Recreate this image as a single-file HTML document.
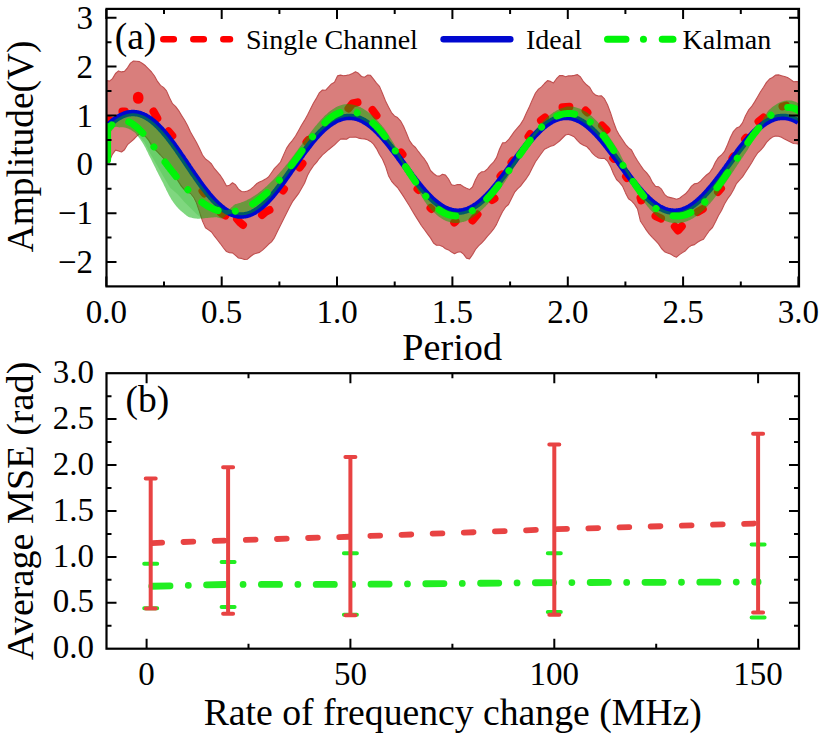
<!DOCTYPE html><html><head><meta charset="utf-8"><style>html,body{margin:0;padding:0;background:#fff;}svg{display:block}text{font-family:"Liberation Serif",serif;fill:#000}</style></head><body>
<svg width="825" height="739" viewBox="0 0 825 739">
<rect width="825" height="739" fill="#fff"/>
<defs><clipPath id="ca"><rect x="106.5" y="8.9" width="692.5" height="277.5"/></clipPath><clipPath id="cb"><rect x="106.5" y="373.2" width="692.5" height="275.5"/></clipPath></defs>
<g clip-path="url(#ca)">
<path d="M106.5,80.5 L109.5,81.1 L112.5,78.6 L115.5,73.5 L118.5,70.9 L121.5,71.9 L124.5,71.4 L127.5,67.8 L130.5,63.1 L133.5,61.0 L136.5,61.2 L139.5,61.6 L142.5,63.5 L145.5,65.8 L148.5,68.9 L151.5,72.0 L154.5,76.0 L157.5,81.4 L160.5,85.4 L163.5,87.4 L166.5,90.9 L169.5,97.8 L172.5,103.7 L175.5,106.3 L178.5,110.3 L181.5,115.4 L184.5,120.0 L187.5,125.6 L190.5,132.0 L193.5,137.2 L196.5,142.5 L199.5,148.5 L202.5,155.0 L205.5,159.0 L208.5,161.1 L211.5,164.0 L214.5,168.7 L217.5,172.2 L220.5,175.7 L223.5,180.4 L226.5,186.0 L229.5,185.2 L232.5,182.8 L235.5,184.7 L238.5,189.1 L241.5,191.5 L244.5,191.8 L247.5,191.0 L250.5,189.4 L253.5,186.9 L256.5,183.8 L259.5,182.1 L262.5,180.8 L265.5,179.1 L268.5,177.0 L271.5,172.8 L274.5,168.4 L277.5,165.3 L280.5,162.0 L283.5,155.1 L286.5,148.4 L289.5,143.9 L292.5,140.3 L295.5,136.0 L298.5,130.7 L301.5,125.3 L304.5,120.4 L307.5,115.0 L310.5,108.9 L313.5,103.0 L316.5,98.1 L319.5,92.6 L322.5,90.0 L325.5,90.3 L328.5,87.1 L331.5,83.9 L334.5,82.3 L337.5,75.9 L340.5,75.1 L343.5,75.7 L346.5,75.4 L349.5,74.8 L352.5,73.4 L355.5,71.8 L358.5,73.3 L361.5,76.5 L364.5,77.2 L367.5,75.1 L370.5,75.3 L373.5,79.2 L376.5,83.2 L379.5,86.4 L382.5,93.5 L385.5,100.9 L388.5,106.9 L391.5,112.6 L394.5,115.9 L397.5,117.6 L400.5,120.8 L403.5,126.2 L406.5,133.2 L409.5,140.6 L412.5,144.9 L415.5,147.5 L418.5,151.7 L421.5,155.7 L424.5,159.2 L427.5,163.9 L430.5,170.5 L433.5,173.5 L436.5,175.7 L439.5,176.1 L442.5,174.3 L445.5,175.1 L448.5,179.0 L451.5,184.7 L454.5,185.5 L457.5,184.5 L460.5,184.6 L463.5,186.8 L466.5,188.3 L469.5,189.6 L472.5,187.0 L475.5,179.7 L478.5,174.2 L481.5,171.9 L484.5,171.5 L487.5,168.8 L490.5,165.2 L493.5,162.2 L496.5,157.6 L499.5,149.2 L502.5,142.9 L505.5,142.6 L508.5,139.7 L511.5,135.6 L514.5,131.3 L517.5,127.9 L520.5,124.4 L523.5,119.5 L526.5,112.8 L529.5,106.5 L532.5,99.4 L535.5,93.0 L538.5,89.1 L541.5,86.9 L544.5,83.5 L547.5,80.6 L550.5,81.4 L553.5,82.9 L556.5,78.7 L559.5,75.6 L562.5,75.5 L565.5,76.7 L568.5,75.9 L571.5,75.9 L574.5,75.4 L577.5,74.6 L580.5,77.0 L583.5,81.7 L586.5,84.8 L589.5,87.1 L592.5,92.3 L595.5,95.1 L598.5,96.0 L601.5,95.8 L604.5,98.9 L607.5,104.7 L610.5,112.7 L613.5,122.0 L616.5,130.0 L619.5,135.4 L622.5,139.7 L625.5,144.4 L628.5,147.6 L631.5,150.0 L634.5,155.8 L637.5,160.8 L640.5,165.3 L643.5,169.6 L646.5,172.6 L649.5,176.6 L652.5,182.4 L655.5,186.4 L658.5,186.7 L661.5,189.2 L664.5,194.3 L667.5,196.9 L670.5,197.6 L673.5,198.3 L676.5,199.3 L679.5,198.2 L682.5,195.9 L685.5,193.8 L688.5,190.4 L691.5,186.1 L694.5,183.8 L697.5,183.4 L700.5,181.1 L703.5,177.9 L706.5,175.0 L709.5,172.7 L712.5,168.4 L715.5,162.0 L718.5,157.4 L721.5,155.0 L724.5,151.4 L727.5,144.8 L730.5,137.2 L733.5,131.3 L736.5,128.1 L739.5,126.8 L742.5,122.9 L745.5,115.7 L748.5,110.2 L751.5,106.7 L754.5,102.1 L757.5,97.0 L760.5,91.7 L763.5,87.3 L766.5,82.4 L769.5,79.1 L772.5,77.5 L775.5,75.1 L778.5,74.9 L781.5,75.7 L784.5,76.5 L787.5,77.5 L790.5,79.4 L793.5,81.7 L796.5,81.5 L799.5,82.0 L799.5,144.4 L796.5,143.7 L793.5,143.5 L790.5,142.0 L787.5,140.4 L784.5,139.1 L781.5,137.2 L778.5,136.2 L775.5,136.0 L772.5,137.1 L769.5,139.3 L766.5,142.4 L763.5,146.9 L760.5,150.3 L757.5,153.2 L754.5,157.8 L751.5,163.0 L748.5,167.6 L745.5,172.2 L742.5,176.9 L739.5,180.1 L736.5,183.6 L733.5,189.7 L730.5,194.9 L727.5,198.9 L724.5,204.1 L721.5,210.5 L718.5,215.5 L715.5,221.8 L712.5,227.5 L709.5,230.5 L706.5,234.7 L703.5,239.3 L700.5,240.5 L697.5,242.3 L694.5,244.6 L691.5,245.4 L688.5,247.4 L685.5,250.7 L682.5,252.6 L679.5,254.6 L676.5,257.2 L673.5,255.9 L670.5,254.0 L667.5,252.9 L664.5,251.7 L661.5,248.5 L658.5,243.9 L655.5,240.7 L652.5,237.6 L649.5,234.3 L646.5,230.4 L643.5,225.7 L640.5,221.3 L637.5,208.9 L634.5,204.1 L631.5,200.9 L628.5,198.7 L625.5,192.9 L622.5,186.1 L619.5,182.4 L616.5,179.5 L613.5,173.7 L610.5,166.4 L607.5,161.1 L604.5,158.4 L601.5,158.5 L598.5,158.0 L595.5,156.1 L592.5,153.3 L589.5,149.5 L586.5,146.4 L583.5,145.3 L580.5,143.6 L577.5,140.6 L574.5,137.1 L571.5,135.6 L568.5,134.2 L565.5,135.0 L562.5,138.0 L559.5,141.0 L556.5,143.4 L553.5,145.5 L550.5,146.3 L547.5,147.8 L544.5,149.2 L541.5,153.3 L538.5,157.5 L535.5,161.8 L532.5,167.4 L529.5,173.6 L526.5,178.3 L523.5,182.2 L520.5,186.2 L517.5,188.9 L514.5,192.4 L511.5,198.5 L508.5,204.5 L505.5,207.2 L502.5,211.7 L499.5,217.7 L496.5,224.4 L493.5,229.2 L490.5,232.8 L487.5,236.1 L484.5,239.9 L481.5,243.2 L478.5,245.8 L475.5,249.5 L472.5,254.6 L469.5,258.9 L466.5,258.1 L463.5,254.1 L460.5,251.8 L457.5,252.3 L454.5,253.7 L451.5,252.1 L448.5,249.9 L445.5,248.7 L442.5,246.4 L439.5,245.3 L436.5,245.3 L433.5,243.0 L430.5,237.9 L427.5,233.9 L424.5,229.8 L421.5,225.7 L418.5,220.9 L415.5,216.1 L412.5,211.2 L409.5,206.0 L406.5,201.3 L403.5,196.4 L400.5,191.9 L397.5,187.5 L394.5,184.6 L391.5,181.1 L388.5,175.7 L385.5,166.2 L382.5,159.3 L379.5,154.5 L376.5,148.6 L373.5,144.1 L370.5,141.4 L367.5,139.7 L364.5,138.9 L361.5,138.6 L358.5,138.1 L355.5,137.0 L352.5,137.2 L349.5,137.3 L346.5,139.2 L343.5,138.9 L340.5,139.1 L337.5,141.8 L334.5,144.9 L331.5,147.3 L328.5,149.7 L325.5,152.3 L322.5,154.8 L319.5,158.3 L316.5,162.4 L313.5,165.7 L310.5,170.1 L307.5,175.5 L304.5,183.2 L301.5,188.5 L298.5,193.7 L295.5,197.7 L292.5,201.7 L289.5,207.2 L286.5,213.3 L283.5,219.3 L280.5,225.2 L277.5,231.2 L274.5,237.6 L271.5,241.9 L268.5,244.3 L265.5,247.4 L262.5,250.1 L259.5,252.4 L256.5,253.2 L253.5,254.2 L250.5,256.5 L247.5,259.2 L244.5,259.5 L241.5,258.4 L238.5,258.0 L235.5,255.4 L232.5,252.9 L229.5,252.8 L226.5,251.6 L223.5,248.0 L220.5,243.8 L217.5,240.0 L214.5,236.2 L211.5,232.0 L208.5,229.9 L205.5,227.8 L202.5,221.1 L199.5,211.9 L196.5,203.0 L193.5,197.1 L190.5,193.5 L187.5,191.9 L184.5,189.8 L181.5,186.4 L178.5,181.6 L175.5,176.6 L172.5,171.9 L169.5,166.4 L166.5,161.6 L163.5,158.3 L160.5,155.0 L157.5,151.9 L154.5,149.1 L151.5,145.4 L148.5,140.1 L145.5,136.5 L142.5,134.3 L139.5,134.0 L136.5,136.4 L133.5,139.5 L130.5,142.1 L127.5,144.7 L124.5,149.7 L121.5,152.0 L118.5,150.9 L115.5,150.1 L112.5,154.1 L109.5,160.8 L106.5,162.7 Z" fill="#d97e7c" stroke="#bf4f4f" stroke-width="1.1" stroke-linejoin="round"/>
<path d="M107.5,119.5L110.5,120.5M122.4,111.6L124.9,111.6M153.5,111.5L157.3,118.3M168.5,131.3L172.3,135.8M202.5,191.0L204.5,193.5M221.0,213.0L225.5,215.5M237.0,219.0L240.0,222.5L243.0,225.0M262.0,215.0L265.5,212.0L269.5,210.0M283.0,190.5L284.0,189.0M299.5,167.5L302.5,163.5M306.5,142.0L308.2,140.0M348.5,108.5L352.5,103.5L357.5,102.3M372.5,110.0L376.5,115.5M401.0,152.5L402.5,154.5M417.5,189.0L418.5,190.0M430.5,208.0L431.5,209.0M454.2,222.5L455.6,221.4M472.5,220.5L477.5,214.5M492.0,200.0L494.5,198.5M500.5,176.2L502.0,174.5M511.5,162.5L513.0,160.5M528.5,136.5L530.2,134.0M541.0,120.5L545.0,117.5M562.5,107.2L569.4,106.8M585.6,110.6L587.4,112.4M602.0,125.5L606.5,130.0M613.2,158.0L614.0,158.8M626.0,176.5L627.0,178.0M640.5,198.0L641.2,200.5M655.5,216.0L661.0,218.5M674.8,226.5L678.0,230.5L681.8,226.3M697.6,212.0L702.8,209.0M718.0,192.0L721.0,188.5M732.5,158.0L733.5,156.5M745.0,139.0L746.0,137.8M758.5,121.5L763.5,117.5M782.5,106.5L786.0,105.5" fill="none" stroke="#ff0000" stroke-width="8" stroke-linecap="round" stroke-linejoin="round"/>
<path d="M138.2,97.0L138.2,98.5" fill="none" stroke="#ff0000" stroke-width="10.5" stroke-linecap="round" stroke-linejoin="round"/>
<path d="M106.3,127.5 L107.1,126.7 L107.9,125.9 L108.7,125.2 L109.4,124.4 L110.2,123.7 L111.0,123.0 L111.7,122.4 L112.5,121.7 L113.3,121.1 L114.0,120.5 L114.8,119.9 L115.6,119.3 L116.3,118.8 L117.1,118.3 L117.9,117.8 L118.7,117.3 L119.4,116.9 L120.2,116.4 L121.0,116.0 L121.7,115.7 L122.5,115.3 L123.3,115.0 L124.0,114.7 L124.8,114.4 L125.6,114.2 L126.3,113.9 L127.1,113.7 L127.9,113.5 L128.7,113.4 L129.4,113.3 L130.2,113.2 L131.0,113.1 L131.7,113.0 L132.5,113.0 L133.3,113.0 L134.0,113.0 L134.8,113.1 L135.6,113.2 L136.3,113.3 L137.1,113.4 L137.9,113.5 L138.6,113.7 L139.4,113.9 L140.2,114.2 L141.0,114.4 L141.7,114.7 L142.5,115.0 L143.3,115.3 L144.0,115.7 L144.8,116.0 L145.6,116.4 L146.3,116.9 L147.1,117.3 L147.9,117.8 L148.6,118.3 L149.4,118.8 L150.2,119.3 L151.0,119.9 L151.7,120.5 L152.5,121.1 L153.3,121.7 L154.0,122.4 L154.8,123.0 L155.6,123.7 L156.3,124.4 L157.1,125.2 L157.9,125.9 L158.6,126.7 L159.4,127.5 L160.2,128.3 L160.9,129.1 L161.7,129.9 L162.5,130.8 L163.3,131.7 L164.0,132.6 L164.8,133.5 L165.6,134.4 L166.3,135.3 L167.1,136.3 L167.9,137.2 L168.6,138.2 L169.4,139.2 L170.2,140.2 L170.9,141.2 L171.7,142.2 L172.5,143.3 L173.3,144.3 L174.0,145.4 L174.8,146.5 L175.6,147.5 L176.3,148.6 L177.1,149.7 L177.9,150.8 L178.6,151.9 L179.4,153.0 L180.2,154.2 L180.9,155.3 L181.7,156.4 L182.5,157.5 L183.2,158.7 L184.0,159.8 L184.8,161.0 L185.6,162.1 L186.3,163.2 L187.1,164.4 L187.9,165.5 L188.6,166.7 L189.4,167.8 L190.2,169.0 L190.9,170.1 L191.7,171.2 L192.5,172.4 L193.2,173.5 L194.0,174.6 L194.8,175.7 L195.6,176.8 L196.3,177.9 L197.1,179.0 L197.9,180.1 L198.6,181.2 L199.4,182.3 L200.2,183.4 L200.9,184.4 L201.7,185.5 L202.5,186.5 L203.2,187.5 L204.0,188.5 L204.8,189.5 L205.6,190.5 L206.3,191.5 L207.1,192.5 L207.9,193.4 L208.6,194.4 L209.4,195.3 L210.2,196.2 L210.9,197.1 L211.7,197.9 L212.5,198.8 L213.2,199.6 L214.0,200.5 L214.8,201.3 L215.5,202.0 L216.3,202.8 L217.1,203.6 L217.9,204.3 L218.6,205.0 L219.4,205.7 L220.2,206.3 L220.9,207.0 L221.7,207.6 L222.5,208.2 L223.2,208.8 L224.0,209.4 L224.8,209.9 L225.5,210.4 L226.3,210.9 L227.1,211.4 L227.9,211.8 L228.6,212.2 L229.4,212.6 L230.2,213.0 L230.9,213.3 L231.7,213.7 L232.5,214.0 L233.2,214.2 L234.0,214.5 L234.8,214.7 L235.5,214.9 L236.3,215.1 L237.1,215.2 L237.8,215.4 L238.6,215.4 L239.4,215.5 L240.2,215.6 L240.9,215.6 L241.7,215.6 L242.5,215.6 L243.2,215.5 L244.0,215.4 L244.8,215.3 L245.5,215.2 L246.3,215.0 L247.1,214.8 L247.8,214.6 L248.6,214.4 L249.4,214.1 L250.2,213.8 L250.9,213.5 L251.7,213.2 L252.5,212.8 L253.2,212.4 L254.0,212.0 L254.8,211.6 L255.5,211.1 L256.3,210.6 L257.1,210.1 L257.8,209.6 L258.6,209.0 L259.4,208.4 L260.1,207.8 L260.9,207.2 L261.7,206.6 L262.5,205.9 L263.2,205.2 L264.0,204.5 L264.8,203.8 L265.5,203.0 L266.3,202.3 L267.1,201.5 L267.8,200.7 L268.6,199.8 L269.4,199.0 L270.1,198.2 L270.9,197.3 L271.7,196.4 L272.5,195.5 L273.2,194.6 L274.0,193.6 L274.8,192.7 L275.5,191.7 L276.3,190.8 L277.1,189.8 L277.8,188.8 L278.6,187.8 L279.4,186.8 L280.1,185.7 L280.9,184.7 L281.7,183.7 L282.5,182.6 L283.2,181.6 L284.0,180.5 L284.8,179.4 L285.5,178.3 L286.3,177.3 L287.1,176.2 L287.8,175.1 L288.6,174.0 L289.4,172.9 L290.1,171.8 L290.9,170.7 L291.7,169.6 L292.4,168.5 L293.2,167.4 L294.0,166.3 L294.8,165.2 L295.5,164.1 L296.3,163.0 L297.1,161.9 L297.8,160.8 L298.6,159.7 L299.4,158.6 L300.1,157.5 L300.9,156.4 L301.7,155.4 L302.4,154.3 L303.2,153.2 L304.0,152.2 L304.8,151.1 L305.5,150.1 L306.3,149.1 L307.1,148.1 L307.8,147.1 L308.6,146.1 L309.4,145.1 L310.1,144.1 L310.9,143.1 L311.7,142.2 L312.4,141.2 L313.2,140.3 L314.0,139.4 L314.7,138.5 L315.5,137.6 L316.3,136.7 L317.1,135.9 L317.8,135.1 L318.6,134.2 L319.4,133.4 L320.1,132.6 L320.9,131.8 L321.7,131.1 L322.4,130.3 L323.2,129.6 L324.0,128.9 L324.7,128.2 L325.5,127.6 L326.3,126.9 L327.1,126.3 L327.8,125.7 L328.6,125.1 L329.4,124.5 L330.1,123.9 L330.9,123.4 L331.7,122.9 L332.4,122.4 L333.2,121.9 L334.0,121.5 L334.7,121.0 L335.5,120.6 L336.3,120.2 L337.0,119.8 L337.8,119.5 L338.6,119.2 L339.4,118.9 L340.1,118.6 L340.9,118.3 L341.7,118.1 L342.4,117.9 L343.2,117.7 L344.0,117.5 L344.7,117.4 L345.5,117.2 L346.3,117.1 L347.0,117.0 L347.8,117.0 L348.6,116.9 L349.4,116.9 L350.1,116.9 L350.9,117.0 L351.7,117.0 L352.4,117.1 L353.2,117.2 L354.0,117.3 L354.7,117.5 L355.5,117.6 L356.3,117.8 L357.0,118.0 L357.8,118.3 L358.6,118.5 L359.4,118.8 L360.1,119.1 L360.9,119.5 L361.7,119.8 L362.4,120.2 L363.2,120.6 L364.0,121.0 L364.7,121.5 L365.5,121.9 L366.3,122.4 L367.0,122.9 L367.8,123.4 L368.6,124.0 L369.3,124.5 L370.1,125.1 L370.9,125.7 L371.7,126.4 L372.4,127.0 L373.2,127.7 L374.0,128.3 L374.7,129.0 L375.5,129.8 L376.3,130.5 L377.0,131.2 L377.8,132.0 L378.6,132.8 L379.3,133.6 L380.1,134.4 L380.9,135.2 L381.7,136.1 L382.4,136.9 L383.2,137.8 L384.0,138.7 L384.7,139.6 L385.5,140.5 L386.3,141.4 L387.0,142.3 L387.8,143.3 L388.6,144.2 L389.3,145.2 L390.1,146.1 L390.9,147.1 L391.6,148.1 L392.4,149.1 L393.2,150.1 L394.0,151.1 L394.7,152.2 L395.5,153.2 L396.3,154.2 L397.0,155.2 L397.8,156.3 L398.6,157.3 L399.3,158.4 L400.1,159.4 L400.9,160.5 L401.6,161.5 L402.4,162.6 L403.2,163.6 L404.0,164.7 L404.7,165.8 L405.5,166.8 L406.3,167.9 L407.0,168.9 L407.8,170.0 L408.6,171.0 L409.3,172.1 L410.1,173.1 L410.9,174.1 L411.6,175.2 L412.4,176.2 L413.2,177.2 L414.0,178.2 L414.7,179.2 L415.5,180.2 L416.3,181.2 L417.0,182.2 L417.8,183.2 L418.6,184.1 L419.3,185.1 L420.1,186.0 L420.9,187.0 L421.6,187.9 L422.4,188.8 L423.2,189.7 L423.9,190.6 L424.7,191.5 L425.5,192.3 L426.3,193.2 L427.0,194.0 L427.8,194.8 L428.6,195.6 L429.3,196.4 L430.1,197.2 L430.9,197.9 L431.6,198.7 L432.4,199.4 L433.2,200.1 L433.9,200.8 L434.7,201.4 L435.5,202.1 L436.3,202.7 L437.0,203.3 L437.8,203.9 L438.6,204.5 L439.3,205.0 L440.1,205.6 L440.9,206.1 L441.6,206.6 L442.4,207.0 L443.2,207.5 L443.9,207.9 L444.7,208.3 L445.5,208.7 L446.2,209.0 L447.0,209.4 L447.8,209.7 L448.6,210.0 L449.3,210.3 L450.1,210.5 L450.9,210.7 L451.6,210.9 L452.4,211.1 L453.2,211.3 L453.9,211.4 L454.7,211.5 L455.5,211.6 L456.2,211.6 L457.0,211.7 L457.8,211.7 L458.6,211.7 L459.3,211.6 L460.1,211.6 L460.9,211.5 L461.6,211.4 L462.4,211.3 L463.2,211.1 L463.9,210.9 L464.7,210.7 L465.5,210.5 L466.2,210.3 L467.0,210.0 L467.8,209.7 L468.5,209.4 L469.3,209.1 L470.1,208.7 L470.9,208.3 L471.6,207.9 L472.4,207.5 L473.2,207.1 L473.9,206.6 L474.7,206.1 L475.5,205.6 L476.2,205.1 L477.0,204.5 L477.8,204.0 L478.5,203.4 L479.3,202.8 L480.1,202.1 L480.9,201.5 L481.6,200.8 L482.4,200.2 L483.2,199.5 L483.9,198.7 L484.7,198.0 L485.5,197.3 L486.2,196.5 L487.0,195.7 L487.8,194.9 L488.5,194.1 L489.3,193.3 L490.1,192.4 L490.9,191.6 L491.6,190.7 L492.4,189.8 L493.2,188.9 L493.9,188.0 L494.7,187.1 L495.5,186.1 L496.2,185.2 L497.0,184.2 L497.8,183.3 L498.5,182.3 L499.3,181.3 L500.1,180.3 L500.8,179.3 L501.6,178.3 L502.4,177.3 L503.2,176.3 L503.9,175.3 L504.7,174.2 L505.5,173.2 L506.2,172.2 L507.0,171.1 L507.8,170.1 L508.5,169.0 L509.3,168.0 L510.1,166.9 L510.8,165.9 L511.6,164.8 L512.4,163.7 L513.2,162.7 L513.9,161.6 L514.7,160.6 L515.5,159.5 L516.2,158.5 L517.0,157.4 L517.8,156.4 L518.5,155.3 L519.3,154.3 L520.1,153.3 L520.8,152.3 L521.6,151.2 L522.4,150.2 L523.1,149.2 L523.9,148.2 L524.7,147.2 L525.5,146.2 L526.2,145.3 L527.0,144.3 L527.8,143.4 L528.5,142.4 L529.3,141.5 L530.1,140.6 L530.8,139.7 L531.6,138.8 L532.4,137.9 L533.1,137.0 L533.9,136.1 L534.7,135.3 L535.5,134.5 L536.2,133.7 L537.0,132.9 L537.8,132.1 L538.5,131.3 L539.3,130.6 L540.1,129.8 L540.8,129.1 L541.6,128.4 L542.4,127.7 L543.1,127.1 L543.9,126.4 L544.7,125.8 L545.4,125.2 L546.2,124.6 L547.0,124.0 L547.8,123.5 L548.5,123.0 L549.3,122.5 L550.1,122.0 L550.8,121.5 L551.6,121.1 L552.4,120.6 L553.1,120.2 L553.9,119.9 L554.7,119.5 L555.4,119.2 L556.2,118.9 L557.0,118.6 L557.8,118.3 L558.5,118.1 L559.3,117.8 L560.1,117.6 L560.8,117.5 L561.6,117.3 L562.4,117.2 L563.1,117.1 L563.9,117.0 L564.7,117.0 L565.4,116.9 L566.2,116.9 L567.0,116.9 L567.8,117.0 L568.5,117.0 L569.3,117.1 L570.1,117.2 L570.8,117.4 L571.6,117.5 L572.4,117.7 L573.1,117.9 L573.9,118.1 L574.7,118.4 L575.4,118.6 L576.2,118.9 L577.0,119.2 L577.7,119.6 L578.5,119.9 L579.3,120.3 L580.1,120.7 L580.8,121.2 L581.6,121.6 L582.4,122.1 L583.1,122.6 L583.9,123.1 L584.7,123.6 L585.4,124.1 L586.2,124.7 L587.0,125.3 L587.7,125.9 L588.5,126.6 L589.3,127.2 L590.1,127.9 L590.8,128.6 L591.6,129.3 L592.4,130.0 L593.1,130.7 L593.9,131.5 L594.7,132.2 L595.4,133.0 L596.2,133.8 L597.0,134.6 L597.7,135.5 L598.5,136.3 L599.3,137.2 L600.0,138.0 L600.8,138.9 L601.6,139.8 L602.4,140.7 L603.1,141.7 L603.9,142.6 L604.7,143.5 L605.4,144.5 L606.2,145.5 L607.0,146.4 L607.7,147.4 L608.5,148.4 L609.3,149.4 L610.0,150.4 L610.8,151.4 L611.6,152.5 L612.4,153.5 L613.1,154.5 L613.9,155.6 L614.7,156.6 L615.4,157.6 L616.2,158.7 L617.0,159.7 L617.7,160.8 L618.5,161.8 L619.3,162.9 L620.0,164.0 L620.8,165.0 L621.6,166.1 L622.3,167.1 L623.1,168.2 L623.9,169.2 L624.7,170.3 L625.4,171.3 L626.2,172.4 L627.0,173.4 L627.7,174.4 L628.5,175.5 L629.3,176.5 L630.0,177.5 L630.8,178.5 L631.6,179.5 L632.3,180.5 L633.1,181.5 L633.9,182.5 L634.7,183.5 L635.4,184.4 L636.2,185.4 L637.0,186.3 L637.7,187.3 L638.5,188.2 L639.3,189.1 L640.0,190.0 L640.8,190.9 L641.6,191.7 L642.3,192.6 L643.1,193.4 L643.9,194.2 L644.6,195.1 L645.4,195.9 L646.2,196.6 L647.0,197.4 L647.7,198.1 L648.5,198.9 L649.3,199.6 L650.0,200.3 L650.8,201.0 L651.6,201.6 L652.3,202.3 L653.1,202.9 L653.9,203.5 L654.6,204.1 L655.4,204.6 L656.2,205.2 L657.0,205.7 L657.7,206.2 L658.5,206.7 L659.3,207.2 L660.0,207.6 L660.8,208.0 L661.6,208.4 L662.3,208.8 L663.1,209.1 L663.9,209.5 L664.6,209.8 L665.4,210.1 L666.2,210.3 L667.0,210.6 L667.7,210.8 L668.5,211.0 L669.3,211.1 L670.0,211.3 L670.8,211.4 L671.6,211.5 L672.3,211.6 L673.1,211.6 L673.9,211.7 L674.6,211.7 L675.4,211.7 L676.2,211.6 L676.9,211.6 L677.7,211.5 L678.5,211.4 L679.3,211.2 L680.0,211.1 L680.8,210.9 L681.6,210.7 L682.3,210.5 L683.1,210.2 L683.9,209.9 L684.6,209.6 L685.4,209.3 L686.2,209.0 L686.9,208.6 L687.7,208.2 L688.5,207.8 L689.3,207.4 L690.0,206.9 L690.8,206.5 L691.6,206.0 L692.3,205.5 L693.1,204.9 L693.9,204.4 L694.6,203.8 L695.4,203.2 L696.2,202.6 L696.9,202.0 L697.7,201.3 L698.5,200.6 L699.2,199.9 L700.0,199.2 L700.8,198.5 L701.6,197.8 L702.3,197.0 L703.1,196.2 L703.9,195.5 L704.6,194.7 L705.4,193.8 L706.2,193.0 L706.9,192.2 L707.7,191.3 L708.5,190.4 L709.2,189.5 L710.0,188.6 L710.8,187.7 L711.6,186.8 L712.3,185.9 L713.1,184.9 L713.9,184.0 L714.6,183.0 L715.4,182.0 L716.2,181.0 L716.9,180.0 L717.7,179.0 L718.5,178.0 L719.2,177.0 L720.0,176.0 L720.8,175.0 L721.6,173.9 L722.3,172.9 L723.1,171.9 L723.9,170.8 L724.6,169.8 L725.4,168.7 L726.2,167.7 L726.9,166.6 L727.7,165.5 L728.5,164.5 L729.2,163.4 L730.0,162.4 L730.8,161.3 L731.5,160.3 L732.3,159.2 L733.1,158.2 L733.9,157.1 L734.6,156.1 L735.4,155.0 L736.2,154.0 L736.9,153.0 L737.7,151.9 L738.5,150.9 L739.2,149.9 L740.0,148.9 L740.8,147.9 L741.5,146.9 L742.3,146.0 L743.1,145.0 L743.9,144.0 L744.6,143.1 L745.4,142.1 L746.2,141.2 L746.9,140.3 L747.7,139.4 L748.5,138.5 L749.2,137.6 L750.0,136.7 L750.8,135.9 L751.5,135.1 L752.3,134.2 L753.1,133.4 L753.8,132.6 L754.6,131.8 L755.4,131.1 L756.2,130.3 L756.9,129.6 L757.7,128.9 L758.5,128.2 L759.2,127.5 L760.0,126.9 L760.8,126.2 L761.5,125.6 L762.3,125.0 L763.1,124.4 L763.8,123.9 L764.6,123.3 L765.4,122.8 L766.2,122.3 L766.9,121.8 L767.7,121.4 L768.5,120.9 L769.2,120.5 L770.0,120.1 L770.8,119.8 L771.5,119.4 L772.3,119.1 L773.1,118.8 L773.8,118.5 L774.6,118.2 L775.4,118.0 L776.1,117.8 L776.9,117.6 L777.7,117.4 L778.5,117.3 L779.2,117.2 L780.0,117.1 L780.8,117.0 L781.5,116.9 L782.3,116.9 L783.1,116.9 L783.8,116.9 L784.6,117.0 L785.4,117.1 L786.1,117.1 L786.9,117.3 L787.7,117.4 L788.5,117.6 L789.2,117.7 L790.0,118.0 L790.8,118.2 L791.5,118.4 L792.3,118.7 L793.1,119.0 L793.8,119.3 L794.6,119.7 L795.4,120.1 L796.1,120.4 L796.9,120.9 L797.7,121.3 L798.4,121.7" fill="none" stroke="#0008d0" stroke-width="6.5" stroke-linejoin="round"/>
<path d="M107.9,125.5 L108.7,125.1 L109.4,124.6 L110.2,124.0 L111.0,123.3 L111.7,122.7 L112.5,121.8 L113.3,121.2 L114.0,120.7 L114.8,120.2 L115.6,119.6 L116.3,119.1 L117.1,118.6 L117.9,118.1 L118.7,117.6 L119.4,117.2 L120.2,116.7 L121.0,116.3 L121.7,116.0 L122.5,115.6 L123.3,115.3 L124.0,115.0 L124.8,114.7 L125.6,114.5 L126.3,114.2 L127.1,114.0 L127.9,113.8 L128.7,113.7 L129.4,113.6 L130.2,113.5 L131.0,113.4 L131.7,113.3 L132.5,113.3 L133.3,113.3 L134.0,113.3 L134.8,113.4 L135.6,113.5 L136.3,113.6 L137.1,113.7 L137.9,113.8 L138.6,114.0 L139.4,114.2 L140.2,114.5 L141.0,114.7 L141.7,115.0 L142.5,115.3 L143.3,115.6 L144.0,116.0 L144.8,116.3 L145.6,116.7 L146.3,117.2 L147.1,117.6 L147.9,118.1 L148.6,118.6 L149.4,119.1 L150.2,119.6 L151.0,120.2 L151.7,120.8 L152.5,121.4 L153.3,122.0 L154.0,122.7 L154.8,123.3 L155.6,124.0 L156.3,124.7 L157.1,125.5 L157.9,126.2 L158.6,127.0 L159.4,127.8 L160.2,128.6 L160.9,129.4 L161.7,130.2 L162.5,131.1 L163.3,132.0 L164.0,132.9 L164.8,133.8 L165.6,134.7 L166.3,135.6 L167.1,136.6 L167.9,137.5 L168.6,138.5 L169.4,139.5 L170.2,140.5 L170.9,141.5 L171.7,142.5 L172.5,143.6 L173.3,144.6 L174.0,145.7 L174.8,146.8 L175.6,147.8 L176.3,148.9 L177.1,150.0 L177.9,151.1 L178.6,152.2 L179.4,153.3 L180.2,154.5 L180.9,155.6 L181.7,156.7 L182.5,157.8 L183.2,159.0 L184.0,160.1 L184.8,161.3 L185.6,162.4 L186.3,163.5 L187.1,164.7 L187.9,165.8 L188.6,167.0 L189.4,168.1 L190.2,169.3 L190.9,170.4 L191.7,171.5 L192.5,172.7 L193.2,173.8 L194.0,174.9 L194.8,176.0 L195.6,177.1 L196.3,178.2 L197.1,179.3 L197.9,180.4 L198.6,181.5 L199.4,182.6 L200.2,183.7 L200.9,184.7 L201.7,185.8 L202.5,186.8 L203.2,187.8 L204.0,188.8 L204.8,189.8 L205.6,190.8 L206.3,191.8 L207.1,192.8 L207.9,193.7 L208.6,194.7 L209.4,195.6 L210.2,196.5 L210.9,197.4 L211.7,198.2 L212.5,199.1 L213.2,199.9 L214.0,200.8 L214.8,201.6 L215.5,202.3 L216.3,203.1 L217.1,203.9 L217.9,204.6 L218.6,205.3 L219.4,206.0 L220.2,206.6 L220.9,207.3 L221.7,207.9 L222.5,208.5 L223.2,209.1 L224.0,209.7 L224.8,210.0 L225.5,210.1 L226.3,210.1 L227.1,210.2 L227.9,210.2 L228.6,209.8 L229.4,209.1 L230.2,208.4 L230.9,207.8 L231.7,207.1 L232.5,206.4 L233.2,205.8 L234.0,205.1 L234.8,204.4 L235.5,204.1 L236.3,203.9 L237.1,203.7 L237.8,203.5 L238.6,203.3 L239.4,203.1 L240.2,202.9 L240.9,202.6 L241.7,202.3 L242.5,202.0 L243.2,201.7 L244.0,201.4 L244.8,201.1 L245.5,200.7 L246.3,200.4 L247.1,200.0 L247.8,199.6 L248.6,199.2 L249.4,198.8 L250.2,198.4 L250.9,197.9 L251.7,197.5 L252.5,197.0 L253.2,196.5 L254.0,196.0 L254.8,195.5 L255.5,195.0 L256.3,194.5 L257.1,193.9 L257.8,193.4 L258.6,192.8 L259.4,192.2 L260.1,191.6 L260.9,191.0 L261.7,190.4 L262.5,189.8 L263.2,189.1 L264.0,188.5 L264.8,187.8 L265.5,187.1 L266.3,186.4 L267.1,185.7 L267.8,185.0 L268.6,184.3 L269.4,183.6 L270.1,182.8 L270.9,182.1 L271.7,181.3 L272.5,180.5 L273.2,179.7 L274.0,178.9 L274.8,178.1 L275.5,177.3 L276.3,176.5 L277.1,175.6 L277.8,174.8 L278.6,173.9 L279.4,173.1 L280.1,172.2 L280.9,171.3 L281.7,170.4 L282.5,169.5 L283.2,168.6 L284.0,167.7 L284.8,166.7 L285.5,165.8 L286.3,164.8 L287.1,163.9 L287.8,162.9 L288.6,161.9 L289.4,160.9 L290.1,159.9 L290.9,158.9 L291.7,157.9 L292.4,156.9 L293.2,155.9 L294.0,154.9 L294.8,153.8 L295.5,152.8 L296.3,151.8 L297.1,150.7 L297.8,149.7 L298.6,148.6 L299.4,147.6 L300.1,146.5 L300.9,145.4 L301.7,144.4 L302.4,143.3 L303.2,142.3 L304.0,141.2 L304.8,140.2 L305.5,139.1 L306.3,138.1 L307.1,137.0 L307.8,136.0 L308.6,135.0 L309.4,134.0 L310.1,132.9 L310.9,131.9 L311.7,130.9 L312.4,130.0 L313.2,129.0 L314.0,128.0 L314.7,127.0 L315.5,126.1 L316.3,125.2 L317.1,124.2 L317.8,123.3 L318.6,122.4 L319.4,121.5 L320.1,120.7 L320.9,119.8 L321.7,119.0 L322.4,118.2 L323.2,117.4 L324.0,116.6 L324.7,115.8 L325.5,115.1 L326.3,114.4 L327.1,113.7 L327.8,113.0 L328.6,112.3 L329.4,111.7 L330.1,111.1 L330.9,110.5 L331.7,109.9 L332.4,109.4 L333.2,108.9 L334.0,108.4 L334.7,107.9 L335.5,107.5 L336.3,107.1 L337.0,106.7 L337.8,106.3 L338.6,106.0 L339.4,105.7 L340.1,105.4 L340.9,105.2 L341.7,105.0 L342.4,104.8 L343.2,104.6 L344.0,104.5 L344.7,104.3 L345.5,104.3 L346.3,104.2 L347.0,104.1 L347.8,104.1 L348.6,104.1 L349.4,104.2 L350.1,104.2 L350.9,104.3 L351.7,104.4 L352.4,104.5 L353.2,104.7 L354.0,104.9 L354.7,105.1 L355.5,105.3 L356.3,105.5 L357.0,105.8 L357.8,106.1 L358.6,106.4 L359.4,106.7 L360.1,107.1 L360.9,107.5 L361.7,107.9 L362.4,108.3 L363.2,108.7 L364.0,109.2 L364.7,109.7 L365.5,110.2 L366.3,110.7 L367.0,111.3 L367.8,111.8 L368.6,112.4 L369.3,113.0 L370.1,113.6 L370.9,114.3 L371.7,115.0 L372.4,115.6 L373.2,116.3 L374.0,117.1 L374.7,117.8 L375.5,118.6 L376.3,119.4 L377.0,120.1 L377.8,121.0 L378.6,121.8 L379.3,122.7 L380.1,123.5 L380.9,124.4 L381.7,125.3 L382.4,126.2 L383.2,127.2 L384.0,128.1 L384.7,129.2 L385.5,130.3 L386.3,131.5 L387.0,132.6 L387.8,133.8 L388.6,135.0 L389.3,136.2 L390.1,137.4 L390.9,138.7 L391.6,139.9 L392.4,141.2 L393.2,142.5 L394.0,143.8 L394.7,145.1 L395.5,146.4 L396.3,147.8 L397.0,149.1 L397.8,150.5 L398.6,151.8 L399.3,153.2 L400.1,154.6 L400.9,156.0 L401.6,157.4 L402.4,158.8 L403.2,160.2 L404.0,161.6 L404.7,163.0 L405.5,164.4 L406.3,165.8 L407.0,167.2 L407.8,168.4 L408.6,169.6 L409.3,170.7 L410.1,171.9 L410.9,173.1 L411.6,174.3 L412.4,175.5 L413.2,176.6 L414.0,177.8 L414.7,178.9 L415.5,180.1 L416.3,181.2 L417.0,182.3 L417.8,183.5 L418.6,184.4 L419.3,185.4 L420.1,186.3 L420.9,187.3 L421.6,188.2 L422.4,189.1 L423.2,190.0 L423.9,190.9 L424.7,191.8 L425.5,192.6 L426.3,193.5 L427.0,194.3 L427.8,195.1 L428.6,195.9 L429.3,196.7 L430.1,197.5 L430.9,198.2 L431.6,199.0 L432.4,199.7 L433.2,200.4 L433.9,201.1 L434.7,201.7 L435.5,202.4 L436.3,203.0 L437.0,203.6 L437.8,204.2 L438.6,204.8 L439.3,205.3 L440.1,205.9 L440.9,206.4 L441.6,206.9 L442.4,207.3 L443.2,207.8 L443.9,208.2 L444.7,208.6 L445.5,209.0 L446.2,209.3 L447.0,209.7 L447.8,210.0 L448.6,210.3 L449.3,210.6 L450.1,210.8 L450.9,211.0 L451.6,211.2 L452.4,211.4 L453.2,211.6 L453.9,211.7 L454.7,211.8 L455.5,211.9 L456.2,211.9 L457.0,212.0 L457.8,212.0 L458.6,212.0 L459.3,211.9 L460.1,211.9 L460.9,211.8 L461.6,211.7 L462.4,211.6 L463.2,211.4 L463.9,211.2 L464.7,211.0 L465.5,210.8 L466.2,210.6 L467.0,210.3 L467.8,210.0 L468.5,209.7 L469.3,209.4 L470.1,209.0 L470.9,208.6 L471.6,208.2 L472.4,207.8 L473.2,207.4 L473.9,206.9 L474.7,206.4 L475.5,205.9 L476.2,205.4 L477.0,204.8 L477.8,204.3 L478.5,203.7 L479.3,203.1 L480.1,202.4 L480.9,201.8 L481.6,201.1 L482.4,200.5 L483.2,199.8 L483.9,199.0 L484.7,198.3 L485.5,197.6 L486.2,196.8 L487.0,196.0 L487.8,195.2 L488.5,194.4 L489.3,193.6 L490.1,192.7 L490.9,191.9 L491.6,191.0 L492.4,190.1 L493.2,189.2 L493.9,188.3 L494.7,187.4 L495.5,186.4 L496.2,185.5 L497.0,184.5 L497.8,183.6 L498.5,182.6 L499.3,181.6 L500.1,180.6 L500.8,179.6 L501.6,178.6 L502.4,177.6 L503.2,176.6 L503.9,175.6 L504.7,174.5 L505.5,173.5 L506.2,172.5 L507.0,171.4 L507.8,170.4 L508.5,169.3 L509.3,168.3 L510.1,167.2 L510.8,166.0 L511.6,164.9 L512.4,163.8 L513.2,162.7 L513.9,161.5 L514.7,160.4 L515.5,159.3 L516.2,158.1 L517.0,157.0 L517.8,155.9 L518.5,154.8 L519.3,153.6 L520.1,152.5 L520.8,151.4 L521.6,150.3 L522.4,149.2 L523.1,148.1 L523.9,147.0 L524.7,145.9 L525.5,144.9 L526.2,143.8 L527.0,142.7 L527.8,141.7 L528.5,140.7 L529.3,139.5 L530.1,138.4 L530.8,137.2 L531.6,136.1 L532.4,135.0 L533.1,133.9 L533.9,132.8 L534.7,131.7 L535.5,130.7 L536.2,129.6 L537.0,128.6 L537.8,127.6 L538.5,126.6 L539.3,125.7 L540.1,124.8 L540.8,123.8 L541.6,123.0 L542.4,122.1 L543.1,121.3 L543.9,120.5 L544.7,119.7 L545.4,118.9 L546.2,118.2 L547.0,117.5 L547.8,116.8 L548.5,116.1 L549.3,115.5 L550.1,114.9 L550.8,114.3 L551.6,113.7 L552.4,113.2 L553.1,112.6 L553.9,112.1 L554.7,111.7 L555.4,111.2 L556.2,110.8 L557.0,110.3 L557.8,109.9 L558.5,109.6 L559.3,109.2 L560.1,108.8 L560.8,108.5 L561.6,108.2 L562.4,107.9 L563.1,107.7 L563.9,107.4 L564.7,107.2 L565.4,107.0 L566.2,106.8 L567.0,106.6 L567.8,106.5 L568.5,106.4 L569.3,106.4 L570.1,106.5 L570.8,106.5 L571.6,106.6 L572.4,106.7 L573.1,106.8 L573.9,106.9 L574.7,107.1 L575.4,107.3 L576.2,107.5 L577.0,107.7 L577.7,107.9 L578.5,108.2 L579.3,108.5 L580.1,108.8 L580.8,109.2 L581.6,109.5 L582.4,109.9 L583.1,110.3 L583.9,110.7 L584.7,111.2 L585.4,111.6 L586.2,112.1 L587.0,112.6 L587.7,113.1 L588.5,113.7 L589.3,114.3 L590.1,114.9 L590.8,115.5 L591.6,116.1 L592.4,116.8 L593.1,117.5 L593.9,118.2 L594.7,118.9 L595.4,119.7 L596.2,120.4 L597.0,121.2 L597.7,122.1 L598.5,122.9 L599.3,123.8 L600.0,124.6 L600.8,125.5 L601.6,126.5 L602.4,127.4 L603.1,128.4 L603.9,129.4 L604.7,130.4 L605.4,131.4 L606.2,132.5 L607.0,133.5 L607.7,134.6 L608.5,135.7 L609.3,136.8 L610.0,138.0 L610.8,139.1 L611.6,140.3 L612.4,141.4 L613.1,142.6 L613.9,143.8 L614.7,145.0 L615.4,146.2 L616.2,147.4 L617.0,148.6 L617.7,149.9 L618.5,151.1 L619.3,152.3 L620.0,153.8 L620.8,155.4 L621.6,156.9 L622.3,158.4 L623.1,160.0 L623.9,161.5 L624.7,163.0 L625.4,164.6 L626.2,166.1 L627.0,167.6 L627.7,169.2 L628.5,170.7 L629.3,172.2 L630.0,173.7 L630.8,175.2 L631.6,176.7 L632.3,178.2 L633.1,179.6 L633.9,180.9 L634.7,182.0 L635.4,183.2 L636.2,184.3 L637.0,185.4 L637.7,186.5 L638.5,187.6 L639.3,188.6 L640.0,189.7 L640.8,190.7 L641.6,191.7 L642.3,192.7 L643.1,193.7 L643.9,194.5 L644.6,195.4 L645.4,196.2 L646.2,196.9 L647.0,197.7 L647.7,198.4 L648.5,199.2 L649.3,199.9 L650.0,200.6 L650.8,201.3 L651.6,201.9 L652.3,202.6 L653.1,203.2 L653.9,203.8 L654.6,204.4 L655.4,204.9 L656.2,205.5 L657.0,206.0 L657.7,206.5 L658.5,207.0 L659.3,207.5 L660.0,207.9 L660.8,208.3 L661.6,208.7 L662.3,209.1 L663.1,209.4 L663.9,209.8 L664.6,210.1 L665.4,210.4 L666.2,210.6 L667.0,210.9 L667.7,211.1 L668.5,211.3 L669.3,211.4 L670.0,211.6 L670.8,211.7 L671.6,211.8 L672.3,211.9 L673.1,211.9 L673.9,212.0 L674.6,212.0 L675.4,212.0 L676.2,211.9 L676.9,211.9 L677.7,211.8 L678.5,211.7 L679.3,211.5 L680.0,211.4 L680.8,211.2 L681.6,211.0 L682.3,210.8 L683.1,210.5 L683.9,210.2 L684.6,209.9 L685.4,209.6 L686.2,209.3 L686.9,208.9 L687.7,208.5 L688.5,208.1 L689.3,207.7 L690.0,207.2 L690.8,206.8 L691.6,206.3 L692.3,205.8 L693.1,205.2 L693.9,204.7 L694.6,204.1 L695.4,203.5 L696.2,202.9 L696.9,202.3 L697.7,201.6 L698.5,200.9 L699.2,200.2 L700.0,199.5 L700.8,198.8 L701.6,198.1 L702.3,197.3 L703.1,196.5 L703.9,195.8 L704.6,195.0 L705.4,194.1 L706.2,193.3 L706.9,192.5 L707.7,191.6 L708.5,190.7 L709.2,189.8 L710.0,188.9 L710.8,188.0 L711.6,187.1 L712.3,186.2 L713.1,185.2 L713.9,184.3 L714.6,183.3 L715.4,182.3 L716.2,181.3 L716.9,180.3 L717.7,179.3 L718.5,178.3 L719.2,177.3 L720.0,176.3 L720.8,175.3 L721.6,174.2 L722.3,173.2 L723.1,172.2 L723.9,171.1 L724.6,170.1 L725.4,169.0 L726.2,168.0 L726.9,166.9 L727.7,165.8 L728.5,164.8 L729.2,163.7 L730.0,162.7 L730.8,161.6 L731.5,160.6 L732.3,159.5 L733.1,158.5 L733.9,157.4 L734.6,156.4 L735.4,155.3 L736.2,154.3 L736.9,153.3 L737.7,152.2 L738.5,151.2 L739.2,150.2 L740.0,149.2 L740.8,148.2 L741.5,147.2 L742.3,146.3 L743.1,145.3 L743.9,144.3 L744.6,143.4 L745.4,142.4 L746.2,141.5 L746.9,140.6 L747.7,139.7 L748.5,138.8 L749.2,137.9 L750.0,137.0 L750.8,136.2 L751.5,135.4 L752.3,134.5 L753.1,133.5 L753.8,132.5 L754.6,131.4 L755.4,130.4 L756.2,129.4 L756.9,128.5 L757.7,127.5 L758.5,126.5 L759.2,125.4 L760.0,124.1 L760.8,122.8 L761.5,121.5 L762.3,120.2 L763.1,118.9 L763.8,117.6 L764.6,116.4 L765.4,115.2 L766.2,114.0 L766.9,112.8 L767.7,111.6 L768.5,110.4 L769.2,109.7 L770.0,109.0 L770.8,108.4 L771.5,107.7 L772.3,107.1 L773.1,106.5 L773.8,106.0 L774.6,105.4 L775.4,104.9 L776.1,104.4 L776.9,103.9 L777.7,103.5 L778.5,103.1 L779.2,102.7 L780.0,102.3 L780.8,102.0 L781.5,101.7 L782.3,101.4 L783.1,101.2 L783.8,101.0 L784.6,100.8 L785.4,100.7 L786.1,100.5 L786.9,100.4 L787.7,100.4 L788.5,100.4 L789.2,100.4 L790.0,100.4 L790.8,100.5 L791.5,100.6 L792.3,100.8 L793.1,101.0 L793.8,101.2 L794.6,101.5 L795.4,101.8 L796.1,102.1 L796.9,102.5 L797.7,102.9 L798.4,103.4 L798.4,121.4 L797.7,121.0 L796.9,120.6 L796.1,120.1 L795.4,119.8 L794.6,119.4 L793.8,119.0 L793.1,118.7 L792.3,118.4 L791.5,118.1 L790.8,117.9 L790.0,117.7 L789.2,117.4 L788.5,117.3 L787.7,117.1 L786.9,117.0 L786.1,116.8 L785.4,116.8 L784.6,116.7 L783.8,116.6 L783.1,116.6 L782.3,116.6 L781.5,116.6 L780.8,116.7 L780.0,116.8 L779.2,116.9 L778.5,117.0 L777.7,117.1 L776.9,117.3 L776.1,117.5 L775.4,117.7 L774.6,117.9 L773.8,118.2 L773.1,118.5 L772.3,118.8 L771.5,119.1 L770.8,119.5 L770.0,119.8 L769.2,120.2 L768.5,120.6 L767.7,121.1 L766.9,121.5 L766.2,122.0 L765.4,122.5 L764.6,123.1 L763.8,123.9 L763.1,124.7 L762.3,125.6 L761.5,126.5 L760.8,127.4 L760.0,128.3 L759.2,129.2 L758.5,130.3 L757.7,131.7 L756.9,133.0 L756.2,134.4 L755.4,135.7 L754.6,137.1 L753.8,138.5 L753.1,139.9 L752.3,141.3 L751.5,142.7 L750.8,144.1 L750.0,145.5 L749.2,146.9 L748.5,148.3 L747.7,149.7 L746.9,150.9 L746.2,152.0 L745.4,153.2 L744.6,154.3 L743.9,155.4 L743.1,156.6 L742.3,157.7 L741.5,158.8 L740.8,160.0 L740.0,161.1 L739.2,162.3 L738.5,163.5 L737.7,164.6 L736.9,165.8 L736.2,166.9 L735.4,168.1 L734.6,169.3 L733.9,170.4 L733.1,171.6 L732.3,172.7 L731.5,173.9 L730.8,175.1 L730.0,176.2 L729.2,177.3 L728.5,178.5 L727.7,179.6 L726.9,180.8 L726.2,181.9 L725.4,183.0 L724.6,184.1 L723.9,185.2 L723.1,186.3 L722.3,187.4 L721.6,188.5 L720.8,189.6 L720.0,190.6 L719.2,191.7 L718.5,192.7 L717.7,193.8 L716.9,194.8 L716.2,195.8 L715.4,196.8 L714.6,197.8 L713.9,198.8 L713.1,199.7 L712.3,200.7 L711.6,201.6 L710.8,202.5 L710.0,203.4 L709.2,204.3 L708.5,205.1 L707.7,206.0 L706.9,206.8 L706.2,207.6 L705.4,208.4 L704.6,209.2 L703.9,209.9 L703.1,210.7 L702.3,211.4 L701.6,212.0 L700.8,212.7 L700.0,213.4 L699.2,214.0 L698.5,214.6 L697.7,215.2 L696.9,215.8 L696.2,216.3 L695.4,216.8 L694.6,217.3 L693.9,217.8 L693.1,218.3 L692.3,218.7 L691.6,219.1 L690.8,219.5 L690.0,219.9 L689.3,220.3 L688.5,220.6 L687.7,220.9 L686.9,221.2 L686.2,221.5 L685.4,221.8 L684.6,222.0 L683.9,222.2 L683.1,222.4 L682.3,222.6 L681.6,222.7 L680.8,222.9 L680.0,223.0 L679.3,223.0 L678.5,223.1 L677.7,223.2 L676.9,223.2 L676.2,223.2 L675.4,223.2 L674.6,223.1 L673.9,223.1 L673.1,223.0 L672.3,222.9 L671.6,222.7 L670.8,222.6 L670.0,222.4 L669.3,222.2 L668.5,222.0 L667.7,221.8 L667.0,221.5 L666.2,221.2 L665.4,220.9 L664.6,220.6 L663.9,220.3 L663.1,219.9 L662.3,219.5 L661.6,219.1 L660.8,218.6 L660.0,218.2 L659.3,217.7 L658.5,217.2 L657.7,216.6 L657.0,216.0 L656.2,215.3 L655.4,214.7 L654.6,214.0 L653.9,213.3 L653.1,212.6 L652.3,211.8 L651.6,211.0 L650.8,210.2 L650.0,209.4 L649.3,208.5 L648.5,207.6 L647.7,206.7 L647.0,205.7 L646.2,204.7 L645.4,203.7 L644.6,202.6 L643.9,201.5 L643.1,200.4 L642.3,199.2 L641.6,198.0 L640.8,196.8 L640.0,195.6 L639.3,194.3 L638.5,193.0 L637.7,191.6 L637.0,190.3 L636.2,188.9 L635.4,187.5 L634.7,186.1 L633.9,184.7 L633.1,183.3 L632.3,182.1 L631.6,180.9 L630.8,179.7 L630.0,178.5 L629.3,177.3 L628.5,176.1 L627.7,174.9 L627.0,173.6 L626.2,172.4 L625.4,171.1 L624.7,170.0 L623.9,168.9 L623.1,167.9 L622.3,166.8 L621.6,165.8 L620.8,164.7 L620.0,163.7 L619.3,162.6 L618.5,161.5 L617.7,160.5 L617.0,159.4 L616.2,158.4 L615.4,157.3 L614.7,156.3 L613.9,155.3 L613.1,154.2 L612.4,153.2 L611.6,152.2 L610.8,151.1 L610.0,150.1 L609.3,149.1 L608.5,148.1 L607.7,147.1 L607.0,146.1 L606.2,145.2 L605.4,144.2 L604.7,143.2 L603.9,142.3 L603.1,141.4 L602.4,140.4 L601.6,139.5 L600.8,138.6 L600.0,137.7 L599.3,136.9 L598.5,136.0 L597.7,135.2 L597.0,134.3 L596.2,133.5 L595.4,132.7 L594.7,131.9 L593.9,131.2 L593.1,130.4 L592.4,129.7 L591.6,129.0 L590.8,128.3 L590.1,127.6 L589.3,126.9 L588.5,126.3 L587.7,125.6 L587.0,125.0 L586.2,124.4 L585.4,123.8 L584.7,123.3 L583.9,122.8 L583.1,122.3 L582.4,121.8 L581.6,121.3 L580.8,120.9 L580.1,120.4 L579.3,120.0 L578.5,119.6 L577.7,119.3 L577.0,118.9 L576.2,118.6 L575.4,118.3 L574.7,118.1 L573.9,117.8 L573.1,117.6 L572.4,117.4 L571.6,117.2 L570.8,117.1 L570.1,116.9 L569.3,116.8 L568.5,116.7 L567.8,116.7 L567.0,116.6 L566.2,116.6 L565.4,116.6 L564.7,116.7 L563.9,116.7 L563.1,116.8 L562.4,116.9 L561.6,117.0 L560.8,117.2 L560.1,117.3 L559.3,117.5 L558.5,117.8 L557.8,118.0 L557.0,118.3 L556.2,118.6 L555.4,118.9 L554.7,119.2 L553.9,119.6 L553.1,119.9 L552.4,120.3 L551.6,120.8 L550.8,121.2 L550.1,121.7 L549.3,122.2 L548.5,122.7 L547.8,123.3 L547.0,123.9 L546.2,124.6 L545.4,125.2 L544.7,125.9 L543.9,126.6 L543.1,127.3 L542.4,128.0 L541.6,128.7 L540.8,129.5 L540.1,130.3 L539.3,131.1 L538.5,132.0 L537.8,132.8 L537.0,133.7 L536.2,134.6 L535.5,135.5 L534.7,136.4 L533.9,137.3 L533.1,138.3 L532.4,139.2 L531.6,140.2 L530.8,141.2 L530.1,142.2 L529.3,143.2 L528.5,144.3 L527.8,145.5 L527.0,146.7 L526.2,147.9 L525.5,149.1 L524.7,150.3 L523.9,151.5 L523.1,152.7 L522.4,154.0 L521.6,155.2 L520.8,156.5 L520.1,157.7 L519.3,158.9 L518.5,160.2 L517.8,161.4 L517.0,162.7 L516.2,163.9 L515.5,165.2 L514.7,166.4 L513.9,167.7 L513.2,168.9 L512.4,170.2 L511.6,171.4 L510.8,172.6 L510.1,173.8 L509.3,175.1 L508.5,176.3 L507.8,177.5 L507.0,178.7 L506.2,179.8 L505.5,181.0 L504.7,182.2 L503.9,183.3 L503.2,184.5 L502.4,185.6 L501.6,186.7 L500.8,187.8 L500.1,188.9 L499.3,189.9 L498.5,191.0 L497.8,192.0 L497.0,193.0 L496.2,194.0 L495.5,195.0 L494.7,196.0 L493.9,196.9 L493.2,197.9 L492.4,198.8 L491.6,199.7 L490.9,200.6 L490.1,201.4 L489.3,202.3 L488.5,203.1 L487.8,204.0 L487.0,204.8 L486.2,205.6 L485.5,206.4 L484.7,207.1 L483.9,207.9 L483.2,208.6 L482.4,209.4 L481.6,210.1 L480.9,210.8 L480.1,211.4 L479.3,212.1 L478.5,212.8 L477.8,213.4 L477.0,214.0 L476.2,214.6 L475.5,215.2 L474.7,215.8 L473.9,216.3 L473.2,216.9 L472.4,217.4 L471.6,217.9 L470.9,218.4 L470.1,218.9 L469.3,219.3 L468.5,219.8 L467.8,220.2 L467.0,220.6 L466.2,220.9 L465.5,221.2 L464.7,221.5 L463.9,221.7 L463.2,221.9 L462.4,222.1 L461.6,222.3 L460.9,222.5 L460.1,222.6 L459.3,222.7 L458.6,222.8 L457.8,222.9 L457.0,222.9 L456.2,223.0 L455.5,223.0 L454.7,222.9 L453.9,222.9 L453.2,222.8 L452.4,222.7 L451.6,222.6 L450.9,222.4 L450.1,222.3 L449.3,222.1 L448.6,221.8 L447.8,221.6 L447.0,221.3 L446.2,221.0 L445.5,220.7 L444.7,220.3 L443.9,219.9 L443.2,219.5 L442.4,219.0 L441.6,218.6 L440.9,218.1 L440.1,217.5 L439.3,217.0 L438.6,216.4 L437.8,215.8 L437.0,215.2 L436.3,214.5 L435.5,213.8 L434.7,213.1 L433.9,212.3 L433.2,211.6 L432.4,210.8 L431.6,210.0 L430.9,209.2 L430.1,208.3 L429.3,207.4 L428.6,206.5 L427.8,205.6 L427.0,204.7 L426.3,203.7 L425.5,202.6 L424.7,201.5 L423.9,200.3 L423.2,199.1 L422.4,197.8 L421.6,196.6 L420.9,195.3 L420.1,194.1 L419.3,192.8 L418.6,191.5 L417.8,190.2 L417.0,188.8 L416.3,187.5 L415.5,186.1 L414.7,184.8 L414.0,183.4 L413.2,182.0 L412.4,180.7 L411.6,179.3 L410.9,177.9 L410.1,176.5 L409.3,175.1 L408.6,173.7 L407.8,172.2 L407.0,170.8 L406.3,169.6 L405.5,168.4 L404.7,167.2 L404.0,166.0 L403.2,164.8 L402.4,163.6 L401.6,162.4 L400.9,161.2 L400.1,160.0 L399.3,158.8 L398.6,157.7 L397.8,156.5 L397.0,155.3 L396.3,154.2 L395.5,153.0 L394.7,151.9 L394.0,150.8 L393.2,149.8 L392.4,148.8 L391.6,147.8 L390.9,146.8 L390.1,145.8 L389.3,144.9 L388.6,143.9 L387.8,143.0 L387.0,142.0 L386.3,141.1 L385.5,140.2 L384.7,139.3 L384.0,138.4 L383.2,137.5 L382.4,136.6 L381.7,135.8 L380.9,134.9 L380.1,134.1 L379.3,133.3 L378.6,132.5 L377.8,131.7 L377.0,130.9 L376.3,130.2 L375.5,129.5 L374.7,128.7 L374.0,128.0 L373.2,127.4 L372.4,126.7 L371.7,126.1 L370.9,125.4 L370.1,124.8 L369.3,124.2 L368.6,123.7 L367.8,123.1 L367.0,122.6 L366.3,122.1 L365.5,121.6 L364.7,121.2 L364.0,120.7 L363.2,120.3 L362.4,119.9 L361.7,119.5 L360.9,119.2 L360.1,118.8 L359.4,118.5 L358.6,118.2 L357.8,118.0 L357.0,117.7 L356.3,117.5 L355.5,117.3 L354.7,117.2 L354.0,117.0 L353.2,116.9 L352.4,116.8 L351.7,116.7 L350.9,116.7 L350.1,116.6 L349.4,116.6 L348.6,116.6 L347.8,116.7 L347.0,116.7 L346.3,116.8 L345.5,116.9 L344.7,117.1 L344.0,117.2 L343.2,117.4 L342.4,117.6 L341.7,117.8 L340.9,118.0 L340.1,118.3 L339.4,118.6 L338.6,118.9 L337.8,119.2 L337.0,119.5 L336.3,119.9 L335.5,120.3 L334.7,120.7 L334.0,121.2 L333.2,121.6 L332.4,122.1 L331.7,122.6 L330.9,123.1 L330.1,123.6 L329.4,124.2 L328.6,124.8 L327.8,125.4 L327.1,126.0 L326.3,126.6 L325.5,127.3 L324.7,127.9 L324.0,128.6 L323.2,129.3 L322.4,130.0 L321.7,130.8 L320.9,131.5 L320.1,132.3 L319.4,133.1 L318.6,133.9 L317.8,134.8 L317.1,135.6 L316.3,136.4 L315.5,137.3 L314.7,138.2 L314.0,139.1 L313.2,140.0 L312.4,140.9 L311.7,141.9 L310.9,142.8 L310.1,143.8 L309.4,144.8 L308.6,145.8 L307.8,146.8 L307.1,147.8 L306.3,148.8 L305.5,149.8 L304.8,150.8 L304.0,151.9 L303.2,152.9 L302.4,154.0 L301.7,155.1 L300.9,156.1 L300.1,157.2 L299.4,158.3 L298.6,159.4 L297.8,160.5 L297.1,161.6 L296.3,162.7 L295.5,163.8 L294.8,164.9 L294.0,166.0 L293.2,167.1 L292.4,168.2 L291.7,169.3 L290.9,170.4 L290.1,171.5 L289.4,172.6 L288.6,173.7 L287.8,174.8 L287.1,175.9 L286.3,177.0 L285.5,178.0 L284.8,179.1 L284.0,180.2 L283.2,181.3 L282.5,182.3 L281.7,183.4 L280.9,184.4 L280.1,185.4 L279.4,186.5 L278.6,187.5 L277.8,188.5 L277.1,189.5 L276.3,190.5 L275.5,191.4 L274.8,192.4 L274.0,193.3 L273.2,194.3 L272.5,195.2 L271.7,196.1 L270.9,197.0 L270.1,197.9 L269.4,198.7 L268.6,199.5 L267.8,200.4 L267.1,201.2 L266.3,202.0 L265.5,202.7 L264.8,203.5 L264.0,204.2 L263.2,204.9 L262.5,205.6 L261.7,206.3 L260.9,206.9 L260.1,207.5 L259.4,208.1 L258.6,208.7 L257.8,209.3 L257.1,209.8 L256.3,210.3 L255.5,210.8 L254.8,211.3 L254.0,211.7 L253.2,212.1 L252.5,212.5 L251.7,212.9 L250.9,213.2 L250.2,213.5 L249.4,213.8 L248.6,214.1 L247.8,214.3 L247.1,214.5 L246.3,214.7 L245.5,214.9 L244.8,215.0 L244.0,215.1 L243.2,215.2 L242.5,215.3 L241.7,215.3 L240.9,215.3 L240.2,215.3 L239.4,215.2 L238.6,215.1 L237.8,215.1 L237.1,214.9 L236.3,214.8 L235.5,214.6 L234.8,214.4 L234.0,214.2 L233.2,213.9 L232.5,213.7 L231.7,213.8 L230.9,214.0 L230.2,214.1 L229.4,214.3 L228.6,214.5 L227.9,214.7 L227.1,214.9 L226.3,215.3 L225.5,215.9 L224.8,216.6 L224.0,217.2 L223.2,217.8 L222.5,218.4 L221.7,218.5 L220.9,218.3 L220.2,218.2 L219.4,218.0 L218.6,217.8 L217.9,217.6 L217.1,217.4 L216.3,217.1 L215.5,217.2 L214.8,217.3 L214.0,217.3 L213.2,217.4 L212.5,217.5 L211.7,217.6 L210.9,217.6 L210.2,217.7 L209.4,217.8 L208.6,217.8 L207.9,217.9 L207.1,218.0 L206.3,218.0 L205.6,218.1 L204.8,218.2 L204.0,218.3 L203.2,218.4 L202.5,218.4 L201.7,218.5 L200.9,218.6 L200.2,218.6 L199.4,218.7 L198.6,218.7 L197.9,218.7 L197.1,218.7 L196.3,218.6 L195.6,218.5 L194.8,218.4 L194.0,218.3 L193.2,218.2 L192.5,218.0 L191.7,217.8 L190.9,217.6 L190.2,217.4 L189.4,217.2 L188.6,216.9 L187.9,216.5 L187.1,216.0 L186.3,215.4 L185.6,214.8 L184.8,214.2 L184.0,213.5 L183.2,212.8 L182.5,212.2 L181.7,211.5 L180.9,210.9 L180.2,210.2 L179.4,209.4 L178.6,208.7 L177.9,207.9 L177.1,207.0 L176.3,206.2 L175.6,205.3 L174.8,204.3 L174.0,203.3 L173.3,202.2 L172.5,201.1 L171.7,199.9 L170.9,198.6 L170.2,197.3 L169.4,196.0 L168.6,194.6 L167.9,193.1 L167.1,191.5 L166.3,189.9 L165.6,188.3 L164.8,186.7 L164.0,185.2 L163.3,183.6 L162.5,182.1 L161.7,180.6 L160.9,179.1 L160.2,177.5 L159.4,176.0 L158.6,174.5 L157.9,173.0 L157.1,171.4 L156.3,169.9 L155.6,168.3 L154.8,166.8 L154.0,165.3 L153.3,163.7 L152.5,162.2 L151.7,160.6 L151.0,159.1 L150.2,157.5 L149.4,155.9 L148.6,154.4 L147.9,152.8 L147.1,151.3 L146.3,149.7 L145.6,148.1 L144.8,146.7 L144.0,145.3 L143.3,144.0 L142.5,142.8 L141.7,141.6 L141.0,140.4 L140.2,139.3 L139.4,138.2 L138.6,137.2 L137.9,136.2 L137.1,135.3 L136.3,134.4 L135.6,133.2 L134.8,132.6 L134.0,132.0 L133.3,131.5 L132.5,131.0 L131.7,130.5 L131.0,130.0 L130.2,129.6 L129.4,129.2 L128.7,128.8 L127.9,128.5 L127.1,128.2 L126.3,127.9 L125.6,127.7 L124.8,127.5 L124.0,127.4 L123.3,127.3 L122.5,127.2 L121.7,127.2 L121.0,127.2 L120.2,127.3 L119.4,127.4 L118.7,127.2 L117.9,127.0 L117.1,126.9 L116.3,126.8 L115.6,126.9 L114.8,127.1 L114.0,127.3 L113.3,127.7 L112.5,128.1 L111.7,131.3 L111.0,131.1 L110.2,131.2 L109.4,131.2 L108.7,131.3 L107.9,131.3 Z" fill="#00b000" fill-opacity="0.5" stroke="none"/>
<path d="M139.0,136.0 L144.5,142.3 L150.2,153.7 L156.8,165.1 L163.4,176.4 L170.1,187.8 L177.6,194.2 L184.4,202.0 L191.2,208.8 L197.0,214.6 L202.0,218.5 L199.0,212.0 L196.0,203.5 L191.5,196.0 L184.9,189.5 L178.0,181.0 L171.4,171.5 L164.3,161.0 L159.0,153.3 L153.6,145.5 L147.5,137.5 L141.0,134.5 Z" fill="#00a000" fill-opacity="0.16" stroke="none"/>
<path d="M107.6,160V126.5M110.3,126.6h0.1" fill="none" stroke="#00f408" stroke-width="7" stroke-linecap="round"/>
<path d="M107.3,166.0 L107.3,131.0 L107.9,127.3 L108.7,126.9 L109.4,126.4 L110.2,126.0 L111.0,125.5 L111.7,125.2 L112.5,123.6 L113.3,123.0 L114.0,122.5 L114.8,122.0 L115.6,121.6 L116.3,121.3 L117.1,121.0 L117.9,120.7 L118.7,120.5 L119.4,120.4 L120.2,120.3 L121.0,120.2 L121.7,120.2 L122.5,120.2 L123.3,120.2 L124.0,120.3 L124.8,120.5 L125.6,120.7 L126.3,120.9 L127.1,121.1 L127.9,121.4 L128.7,121.8 L129.4,122.1 L130.2,122.5 L131.0,122.9 L131.7,123.4 L132.5,123.9 L133.3,124.4 L134.0,125.0 L134.8,125.6 L135.6,126.2 L136.3,126.8 L137.1,127.5 L137.9,128.2 L138.6,128.9 L139.4,129.6 L140.2,130.4 L141.0,131.2 L141.7,132.0 L142.5,132.8 L143.3,133.7 L144.0,134.5 L144.8,135.4 L145.6,136.3 L146.3,137.2 L147.1,138.2 L147.9,139.1 L148.6,140.1 L149.4,141.0 L150.2,142.0 L151.0,143.0 L151.7,144.0 L152.5,145.0 L153.3,146.0 L154.0,147.1 L154.8,148.1 L155.6,149.2 L156.3,150.2 L157.1,151.2 L157.9,152.3 L158.6,153.4 L159.4,154.4 L160.2,155.5 L160.9,156.5 L161.7,157.6 L162.5,158.6 L163.3,159.7 L164.0,160.7 L164.8,161.8 L165.6,162.8 L166.3,163.8 L167.1,164.9 L167.9,165.9 L168.6,166.9 L169.4,167.9 L170.2,168.9 L170.9,169.9 L171.7,170.9 L172.5,171.9 L173.3,172.8 L174.0,173.8 L174.8,174.8 L175.6,175.7 L176.3,176.7 L177.1,177.6 L177.9,178.5 L178.6,179.4 L179.4,180.3 L180.2,181.2 L180.9,182.1 L181.7,183.0 L182.5,183.9 L183.2,184.8 L184.0,185.6 L184.8,186.5 L185.6,187.3 L186.3,188.1 L187.1,188.9 L187.9,189.7 L188.6,190.5 L189.4,191.3 L190.2,192.1 L190.9,192.8 L191.7,193.6 L192.5,194.3 L193.2,195.0 L194.0,195.7 L194.8,196.4 L195.6,197.1 L196.3,197.8 L197.1,198.4 L197.9,199.1 L198.6,199.7 L199.4,200.3 L200.2,200.9 L200.9,201.5 L201.7,202.1 L202.5,202.7 L203.2,203.2 L204.0,203.7 L204.8,204.3 L205.6,204.8 L206.3,205.2 L207.1,205.7 L207.9,206.2 L208.6,206.6 L209.4,207.0 L210.2,207.4 L210.9,207.8 L211.7,208.2 L212.5,208.6 L213.2,208.9 L214.0,209.2 L214.8,209.5 L215.5,209.8 L216.3,210.1 L217.1,210.3 L217.9,210.5 L218.6,210.8 L219.4,211.0 L220.2,211.1 L220.9,211.3 L221.7,211.4 L222.5,211.6 L223.2,211.7 L224.0,211.8 L224.8,211.8 L225.5,211.9 L226.3,211.9 L227.1,212.0 L227.9,212.0 L228.6,212.0 L229.4,211.9 L230.2,211.9 L230.9,211.8 L231.7,211.8 L232.5,211.7 L233.2,211.6 L234.0,211.4 L234.8,211.3 L235.5,211.1 L236.3,211.0 L237.1,210.8 L237.8,210.6 L238.6,210.4 L239.4,210.2 L240.2,209.9 L240.9,209.7 L241.7,209.4 L242.5,209.1 L243.2,208.8 L244.0,208.5 L244.8,208.1 L245.5,207.8 L246.3,207.4 L247.1,207.1 L247.8,206.7 L248.6,206.3 L249.4,205.9 L250.2,205.4 L250.9,205.0 L251.7,204.5 L252.5,204.1 L253.2,203.6 L254.0,203.1 L254.8,202.6 L255.5,202.1 L256.3,201.5 L257.1,201.0 L257.8,200.4 L258.6,199.8 L259.4,199.3 L260.1,198.7 L260.9,198.1 L261.7,197.4 L262.5,196.8 L263.2,196.2 L264.0,195.5 L264.8,194.8 L265.5,194.2 L266.3,193.5 L267.1,192.8 L267.8,192.1 L268.6,191.3 L269.4,190.6 L270.1,189.9 L270.9,189.1 L271.7,188.3 L272.5,187.6 L273.2,186.8 L274.0,186.0 L274.8,185.2 L275.5,184.3 L276.3,183.5 L277.1,182.7 L277.8,181.8 L278.6,181.0 L279.4,180.1 L280.1,179.2 L280.9,178.3 L281.7,177.4 L282.5,176.5 L283.2,175.6 L284.0,174.7 L284.8,173.8 L285.5,172.8 L286.3,171.9 L287.1,170.9 L287.8,169.9 L288.6,169.0 L289.4,168.0 L290.1,167.0 L290.9,166.0 L291.7,165.0 L292.4,164.0 L293.2,163.0 L294.0,161.9 L294.8,160.9 L295.5,159.8 L296.3,158.8 L297.1,157.8 L297.8,156.7 L298.6,155.7 L299.4,154.6 L300.1,153.5 L300.9,152.5 L301.7,151.4 L302.4,150.4 L303.2,149.3 L304.0,148.3 L304.8,147.2 L305.5,146.2 L306.3,145.1 L307.1,144.1 L307.8,143.1 L308.6,142.0 L309.4,141.0 L310.1,140.0 L310.9,139.0 L311.7,138.0 L312.4,137.0 L313.2,136.0 L314.0,135.1 L314.7,134.1 L315.5,133.1 L316.3,132.2 L317.1,131.3 L317.8,130.4 L318.6,129.5 L319.4,128.6 L320.1,127.7 L320.9,126.9 L321.7,126.0 L322.4,125.2 L323.2,124.4 L324.0,123.6 L324.7,122.9 L325.5,122.1 L326.3,121.4 L327.1,120.7 L327.8,120.0 L328.6,119.4 L329.4,118.7 L330.1,118.1 L330.9,117.5 L331.7,117.0 L332.4,116.4 L333.2,115.9 L334.0,115.4 L334.7,115.0 L335.5,114.5 L336.3,114.1 L337.0,113.7 L337.8,113.4 L338.6,113.1 L339.4,112.8 L340.1,112.5 L340.9,112.2 L341.7,112.0 L342.4,111.8 L343.2,111.7 L344.0,111.5 L344.7,111.4 L345.5,111.3 L346.3,111.2 L347.0,111.2 L347.8,111.2 L348.6,111.2 L349.4,111.2 L350.1,111.3 L350.9,111.4 L351.7,111.5 L352.4,111.6 L353.2,111.7 L354.0,111.9 L354.7,112.1 L355.5,112.3 L356.3,112.6 L357.0,112.8 L357.8,113.1 L358.6,113.4 L359.4,113.8 L360.1,114.1 L360.9,114.5 L361.7,114.9 L362.4,115.3 L363.2,115.8 L364.0,116.2 L364.7,116.7 L365.5,117.2 L366.3,117.8 L367.0,118.3 L367.8,118.9 L368.6,119.5 L369.3,120.1 L370.1,120.7 L370.9,121.3 L371.7,122.0 L372.4,122.7 L373.2,123.4 L374.0,124.1 L374.7,124.9 L375.5,125.6 L376.3,126.4 L377.0,127.2 L377.8,128.0 L378.6,128.8 L379.3,129.7 L380.1,130.6 L380.9,131.5 L381.7,132.4 L382.4,133.3 L383.2,134.2 L384.0,135.2 L384.7,136.1 L385.5,137.1 L386.3,138.1 L387.0,139.2 L387.8,140.2 L388.6,141.2 L389.3,142.3 L390.1,143.4 L390.9,144.5 L391.6,145.6 L392.4,146.7 L393.2,147.8 L394.0,148.9 L394.7,150.1 L395.5,151.2 L396.3,152.4 L397.0,153.5 L397.8,154.7 L398.6,155.9 L399.3,157.0 L400.1,158.2 L400.9,159.4 L401.6,160.6 L402.4,161.8 L403.2,163.0 L404.0,164.2 L404.7,165.4 L405.5,166.6 L406.3,167.8 L407.0,169.0 L407.8,170.2 L408.6,171.4 L409.3,172.5 L410.1,173.7 L410.9,174.9 L411.6,176.1 L412.4,177.3 L413.2,178.4 L414.0,179.6 L414.7,180.7 L415.5,181.9 L416.3,183.0 L417.0,184.1 L417.8,185.3 L418.6,186.4 L419.3,187.5 L420.1,188.5 L420.9,189.6 L421.6,190.7 L422.4,191.7 L423.2,192.7 L423.9,193.7 L424.7,194.7 L425.5,195.7 L426.3,196.7 L427.0,197.6 L427.8,198.6 L428.6,199.5 L429.3,200.4 L430.1,201.3 L430.9,202.1 L431.6,202.9 L432.4,203.7 L433.2,204.5 L433.9,205.3 L434.7,206.0 L435.5,206.7 L436.3,207.4 L437.0,208.1 L437.8,208.7 L438.6,209.4 L439.3,209.9 L440.1,210.5 L440.9,211.0 L441.6,211.5 L442.4,212.0 L443.2,212.4 L443.9,212.9 L444.7,213.2 L445.5,213.6 L446.2,213.9 L447.0,214.2 L447.8,214.5 L448.6,214.8 L449.3,215.0 L450.1,215.2 L450.9,215.4 L451.6,215.5 L452.4,215.7 L453.2,215.8 L453.9,215.8 L454.7,215.9 L455.5,215.9 L456.2,215.9 L457.0,215.9 L457.8,215.9 L458.6,215.8 L459.3,215.7 L460.1,215.6 L460.9,215.4 L461.6,215.3 L462.4,215.1 L463.2,214.9 L463.9,214.7 L464.7,214.4 L465.5,214.1 L466.2,213.8 L467.0,213.5 L467.8,213.2 L468.5,212.8 L469.3,212.5 L470.1,212.1 L470.9,211.6 L471.6,211.2 L472.4,210.7 L473.2,210.3 L473.9,209.8 L474.7,209.3 L475.5,208.7 L476.2,208.2 L477.0,207.6 L477.8,207.0 L478.5,206.4 L479.3,205.8 L480.1,205.1 L480.9,204.5 L481.6,203.8 L482.4,203.1 L483.2,202.4 L483.9,201.7 L484.7,200.9 L485.5,200.2 L486.2,199.4 L487.0,198.6 L487.8,197.8 L488.5,197.0 L489.3,196.2 L490.1,195.3 L490.9,194.4 L491.6,193.6 L492.4,192.7 L493.2,191.8 L493.9,190.8 L494.7,189.9 L495.5,189.0 L496.2,188.0 L497.0,187.0 L497.8,186.1 L498.5,185.1 L499.3,184.0 L500.1,183.0 L500.8,182.0 L501.6,181.0 L502.4,179.9 L503.2,178.8 L503.9,177.8 L504.7,176.7 L505.5,175.6 L506.2,174.5 L507.0,173.4 L507.8,172.3 L508.5,171.2 L509.3,170.1 L510.1,169.0 L510.8,167.8 L511.6,166.7 L512.4,165.6 L513.2,164.5 L513.9,163.3 L514.7,162.2 L515.5,161.1 L516.2,159.9 L517.0,158.8 L517.8,157.7 L518.5,156.6 L519.3,155.4 L520.1,154.3 L520.8,153.2 L521.6,152.1 L522.4,151.0 L523.1,149.9 L523.9,148.8 L524.7,147.7 L525.5,146.7 L526.2,145.6 L527.0,144.5 L527.8,143.5 L528.5,142.5 L529.3,141.4 L530.1,140.4 L530.8,139.4 L531.6,138.4 L532.4,137.4 L533.1,136.5 L533.9,135.5 L534.7,134.6 L535.5,133.7 L536.2,132.8 L537.0,131.9 L537.8,131.0 L538.5,130.2 L539.3,129.3 L540.1,128.5 L540.8,127.7 L541.6,126.9 L542.4,126.2 L543.1,125.5 L543.9,124.8 L544.7,124.1 L545.4,123.4 L546.2,122.8 L547.0,122.1 L547.8,121.5 L548.5,120.9 L549.3,120.4 L550.1,119.9 L550.8,119.3 L551.6,118.8 L552.4,118.4 L553.1,117.9 L553.9,117.5 L554.7,117.1 L555.4,116.7 L556.2,116.3 L557.0,116.0 L557.8,115.7 L558.5,115.4 L559.3,115.1 L560.1,114.8 L560.8,114.6 L561.6,114.4 L562.4,114.2 L563.1,114.0 L563.9,113.9 L564.7,113.8 L565.4,113.7 L566.2,113.6 L567.0,113.5 L567.8,113.5 L568.5,113.5 L569.3,113.5 L570.1,113.5 L570.8,113.6 L571.6,113.6 L572.4,113.7 L573.1,113.8 L573.9,114.0 L574.7,114.1 L575.4,114.3 L576.2,114.5 L577.0,114.8 L577.7,115.0 L578.5,115.3 L579.3,115.6 L580.1,115.9 L580.8,116.2 L581.6,116.6 L582.4,116.9 L583.1,117.3 L583.9,117.8 L584.7,118.2 L585.4,118.7 L586.2,119.2 L587.0,119.7 L587.7,120.2 L588.5,120.7 L589.3,121.3 L590.1,121.9 L590.8,122.5 L591.6,123.2 L592.4,123.8 L593.1,124.5 L593.9,125.2 L594.7,126.0 L595.4,126.7 L596.2,127.5 L597.0,128.3 L597.7,129.1 L598.5,129.9 L599.3,130.8 L600.0,131.7 L600.8,132.6 L601.6,133.5 L602.4,134.5 L603.1,135.4 L603.9,136.4 L604.7,137.4 L605.4,138.5 L606.2,139.5 L607.0,140.6 L607.7,141.7 L608.5,142.8 L609.3,143.9 L610.0,145.0 L610.8,146.2 L611.6,147.3 L612.4,148.5 L613.1,149.7 L613.9,150.9 L614.7,152.1 L615.4,153.3 L616.2,154.5 L617.0,155.7 L617.7,156.9 L618.5,158.2 L619.3,159.4 L620.0,160.6 L620.8,161.9 L621.6,163.1 L622.3,164.4 L623.1,165.6 L623.9,166.9 L624.7,168.1 L625.4,169.3 L626.2,170.6 L627.0,171.8 L627.7,173.1 L628.5,174.3 L629.3,175.5 L630.0,176.7 L630.8,177.9 L631.6,179.1 L632.3,180.3 L633.1,181.5 L633.9,182.7 L634.7,183.8 L635.4,185.0 L636.2,186.1 L637.0,187.2 L637.7,188.3 L638.5,189.4 L639.3,190.4 L640.0,191.5 L640.8,192.5 L641.6,193.5 L642.3,194.5 L643.1,195.5 L643.9,196.4 L644.6,197.4 L645.4,198.3 L646.2,199.1 L647.0,200.0 L647.7,200.8 L648.5,201.6 L649.3,202.4 L650.0,203.2 L650.8,203.9 L651.6,204.7 L652.3,205.4 L653.1,206.0 L653.9,206.7 L654.6,207.3 L655.4,207.9 L656.2,208.5 L657.0,209.1 L657.7,209.6 L658.5,210.2 L659.3,210.7 L660.0,211.1 L660.8,211.6 L661.6,212.0 L662.3,212.4 L663.1,212.8 L663.9,213.2 L664.6,213.5 L665.4,213.9 L666.2,214.2 L667.0,214.5 L667.7,214.7 L668.5,214.9 L669.3,215.2 L670.0,215.4 L670.8,215.5 L671.6,215.7 L672.3,215.8 L673.1,215.9 L673.9,216.0 L674.6,216.1 L675.4,216.1 L676.2,216.1 L676.9,216.1 L677.7,216.1 L678.5,216.1 L679.3,216.0 L680.0,215.9 L680.8,215.8 L681.6,215.7 L682.3,215.5 L683.1,215.4 L683.9,215.2 L684.6,215.0 L685.4,214.7 L686.2,214.5 L686.9,214.2 L687.7,213.9 L688.5,213.6 L689.3,213.2 L690.0,212.9 L690.8,212.5 L691.6,212.1 L692.3,211.7 L693.1,211.2 L693.9,210.8 L694.6,210.3 L695.4,209.8 L696.2,209.3 L696.9,208.7 L697.7,208.1 L698.5,207.6 L699.2,206.9 L700.0,206.3 L700.8,205.7 L701.6,205.0 L702.3,204.3 L703.1,203.6 L703.9,202.9 L704.6,202.1 L705.4,201.3 L706.2,200.6 L706.9,199.8 L707.7,198.9 L708.5,198.1 L709.2,197.2 L710.0,196.3 L710.8,195.4 L711.6,194.5 L712.3,193.6 L713.1,192.7 L713.9,191.7 L714.6,190.7 L715.4,189.8 L716.2,188.8 L716.9,187.7 L717.7,186.7 L718.5,185.7 L719.2,184.6 L720.0,183.6 L720.8,182.5 L721.6,181.5 L722.3,180.4 L723.1,179.3 L723.9,178.2 L724.6,177.1 L725.4,176.0 L726.2,174.8 L726.9,173.7 L727.7,172.6 L728.5,171.4 L729.2,170.3 L730.0,169.2 L730.8,168.0 L731.5,166.8 L732.3,165.7 L733.1,164.5 L733.9,163.4 L734.6,162.2 L735.4,161.1 L736.2,159.9 L736.9,158.7 L737.7,157.6 L738.5,156.4 L739.2,155.3 L740.0,154.1 L740.8,152.9 L741.5,151.8 L742.3,150.6 L743.1,149.5 L743.9,148.4 L744.6,147.2 L745.4,146.1 L746.2,145.0 L746.9,143.9 L747.7,142.8 L748.5,141.7 L749.2,140.6 L750.0,139.5 L750.8,138.4 L751.5,137.4 L752.3,136.3 L753.1,135.3 L753.8,134.3 L754.6,133.2 L755.4,132.2 L756.2,131.2 L756.9,130.3 L757.7,129.3 L758.5,128.3 L759.2,127.4 L760.0,126.5 L760.8,125.6 L761.5,124.7 L762.3,123.8 L763.1,122.9 L763.8,122.1 L764.6,121.3 L765.4,120.5 L766.2,119.7 L766.9,118.9 L767.7,118.2 L768.5,117.5 L769.2,116.8 L770.0,116.1 L770.8,115.4 L771.5,114.8 L772.3,114.2 L773.1,113.6 L773.8,113.0 L774.6,112.5 L775.4,111.9 L776.1,111.4 L776.9,111.0 L777.7,110.5 L778.5,110.1 L779.2,109.7 L780.0,109.4 L780.8,109.1 L781.5,108.8 L782.3,108.5 L783.1,108.2 L783.8,108.0 L784.6,107.8 L785.4,107.7 L786.1,107.6 L786.9,107.5 L787.7,107.4 L788.5,107.4 L789.2,107.4 L790.0,107.5 L790.8,107.6 L791.5,107.7 L792.3,107.9 L793.1,108.0 L793.8,108.3 L794.6,108.5 L795.4,108.8 L796.1,109.2 L796.9,109.6 L797.7,110.0 L798.4,110.4" fill="none" stroke="#00f408" stroke-width="7" stroke-linecap="round" stroke-linejoin="round" stroke-dasharray="18.4 17.5 0.01 18.79" stroke-dashoffset="47.2"/>
</g>
<rect x="106.5" y="8.9" width="692.5" height="277.5" fill="none" stroke="#000" stroke-width="2.2"/>
<path d="M106.3,286.4v-10M106.3,8.9v10M164.0,286.4v-5M164.0,8.9v5M221.7,286.4v-10M221.7,8.9v10M279.4,286.4v-5M279.4,8.9v5M337.0,286.4v-10M337.0,8.9v10M394.7,286.4v-5M394.7,8.9v5M452.4,286.4v-10M452.4,8.9v10M510.1,286.4v-5M510.1,8.9v5M567.8,286.4v-10M567.8,8.9v10M625.4,286.4v-5M625.4,8.9v5M683.1,286.4v-10M683.1,8.9v10M740.8,286.4v-5M740.8,8.9v5M798.4,286.4v-10M798.4,8.9v10M106.5,262.0h10M799.0,262.0h-10M106.5,237.6h5M799.0,237.6h-5M106.5,213.2h10M799.0,213.2h-10M106.5,188.7h5M799.0,188.7h-5M106.5,164.3h10M799.0,164.3h-10M106.5,139.9h5M799.0,139.9h-5M106.5,115.5h10M799.0,115.5h-10M106.5,91.0h5M799.0,91.0h-5M106.5,66.6h10M799.0,66.6h-10M106.5,42.2h5M799.0,42.2h-5M106.5,17.8h10M799.0,17.8h-10" stroke="#000" stroke-width="2" fill="none"/>
<text x="93" y="28.8"  font-size="33" text-anchor="end">3</text>
<text x="93" y="77.6"  font-size="33" text-anchor="end">2</text>
<text x="93" y="126.5"  font-size="33" text-anchor="end">1</text>
<text x="93" y="175.3"  font-size="33" text-anchor="end">0</text>
<text x="93" y="224.2"  font-size="33" text-anchor="end">−1</text>
<text x="93" y="273.0"  font-size="33" text-anchor="end">−2</text>
<text x="106.3" y="323.4"  font-size="33" text-anchor="middle">0.0</text>
<text x="221.7" y="323.4"  font-size="33" text-anchor="middle">0.5</text>
<text x="337.0" y="323.4"  font-size="33" text-anchor="middle">1.0</text>
<text x="452.4" y="323.4"  font-size="33" text-anchor="middle">1.5</text>
<text x="567.8" y="323.4"  font-size="33" text-anchor="middle">2.0</text>
<text x="683.1" y="323.4"  font-size="33" text-anchor="middle">2.5</text>
<text x="798.4" y="323.4"  font-size="33" text-anchor="middle">3.0</text>
<text x="452.2" y="360.0"  font-size="38.2" text-anchor="middle">Period</text>
<text transform="translate(33,146.4) rotate(-90)" x="0" y="0"  font-size="37.4" text-anchor="middle">Amplitude(V)</text>
<text x="114.7" y="48.7"  font-size="37.5">(a)</text>
<path d="M163.3,39.2H230" stroke="#ff0000" stroke-width="6.5" stroke-linecap="round" stroke-dasharray="10.5 19.5" fill="none"/>
<text x="246" y="49.3"  font-size="28">Single Channel</text>
<path d="M443.6,39.2H510.3" stroke="#0008d0" stroke-width="6.5" stroke-linecap="round" fill="none"/>
<text x="526" y="49.3"  font-size="28">Ideal</text>
<path d="M607.5,39.2H626 M643.4,39.2h0.1 M662.2,39.2H673" stroke="#00f408" stroke-width="7" stroke-linecap="round" fill="none"/>
<text x="682.5" y="49.3"  font-size="28">Kalman</text>
<g clip-path="url(#cb)">
<path d="M144.2,563.8h13M144.2,608.3h13M221.6,562.0h13M221.6,607.0h13M343.9,553.2h13M343.9,614.7h13M547.8,553.2h13M547.8,612.0h13M751.6,544.4h13M751.6,617.5h13" stroke="#22ee22" stroke-width="4" stroke-linecap="round" fill="none"/>
<path d="M150.7,586.3 L228.1,584.4 L350.4,584.4 L554.3,582.6 L758.1,582.0" stroke="#22ee22" stroke-width="6.8" stroke-linecap="round" stroke-dasharray="18.2 18.3 0.01 18.29" stroke-dashoffset="-1.1" fill="none"/>
<path d="M150.7,543.1 L228.1,540.5 L350.4,536.7 L554.3,529.3 L758.1,523.4" stroke="#e84343" stroke-width="5.8" stroke-linecap="round" stroke-dasharray="9.7 21.46" stroke-dashoffset="-1.7" fill="none"/>
<path d="M150.7,478.4V608.6M145.7,478.4h10M145.7,608.6h10M228.1,467.2V613.8M223.1,467.2h10M223.1,613.8h10M350.4,457.1V615.3M345.4,457.1h10M345.4,615.3h10M554.3,444.4V614.7M549.3,444.4h10M549.3,614.7h10M758.1,433.8V612.4M753.1,433.8h10M753.1,612.4h10" stroke="#e84343" stroke-width="4" stroke-linecap="round" fill="none"/>
</g>
<rect x="106.5" y="373.2" width="692.5" height="275.50000000000006" fill="none" stroke="#000" stroke-width="2.2"/>
<path d="M146.6,648.7v-10M146.6,373.2v10M248.5,648.7v-5M248.5,373.2v5M350.4,648.7v-10M350.4,373.2v10M452.4,648.7v-5M452.4,373.2v5M554.3,648.7v-10M554.3,373.2v10M656.2,648.7v-5M656.2,373.2v5M758.1,648.7v-10M758.1,373.2v10M106.5,625.7h5M799.0,625.7h-5M106.5,602.8h10M799.0,602.8h-10M106.5,579.8h5M799.0,579.8h-5M106.5,556.9h10M799.0,556.9h-10M106.5,533.9h5M799.0,533.9h-5M106.5,511.0h10M799.0,511.0h-10M106.5,488.0h5M799.0,488.0h-5M106.5,465.0h10M799.0,465.0h-10M106.5,442.1h5M799.0,442.1h-5M106.5,419.1h10M799.0,419.1h-10M106.5,396.2h5M799.0,396.2h-5" stroke="#000" stroke-width="2" fill="none"/>
<text x="94" y="658.3"  font-size="33" text-anchor="end">0.0</text>
<text x="94" y="612.4"  font-size="33" text-anchor="end">0.5</text>
<text x="94" y="566.5"  font-size="33" text-anchor="end">1.0</text>
<text x="94" y="520.6"  font-size="33" text-anchor="end">1.5</text>
<text x="94" y="474.6"  font-size="33" text-anchor="end">2.0</text>
<text x="94" y="428.7"  font-size="33" text-anchor="end">2.5</text>
<text x="94" y="382.8"  font-size="33" text-anchor="end">3.0</text>
<text x="146.6" y="685.3"  font-size="33" text-anchor="middle">0</text>
<text x="350.4" y="685.3"  font-size="33" text-anchor="middle">50</text>
<text x="554.3" y="685.3"  font-size="33" text-anchor="middle">100</text>
<text x="758.1" y="685.3"  font-size="33" text-anchor="middle">150</text>
<text x="452.7" y="724.9"  font-size="37.7" text-anchor="middle">Rate of frequency change (MHz)</text>
<text transform="translate(33,510.8) rotate(-90)" x="0" y="0"  font-size="38.2" text-anchor="middle">Average MSE (rad)</text>
<text x="125.4" y="411.9"  font-size="37.5">(b)</text>
</svg></body></html>
